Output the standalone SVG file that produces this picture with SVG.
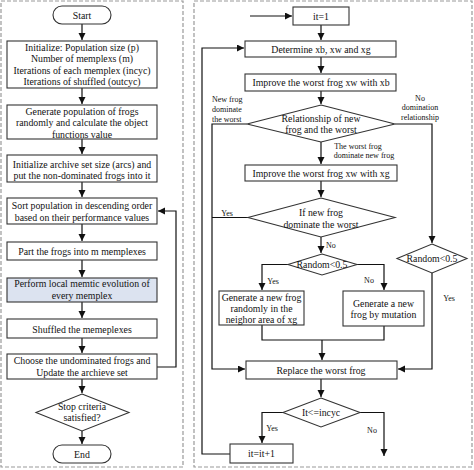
<svg xmlns="http://www.w3.org/2000/svg" width="474" height="470" viewBox="0 0 474 470">
<style>
.b{fill:#fff;stroke:#333;stroke-width:1.1}
.hl{fill:#dce3f0}
.t{font-family:"Liberation Serif","Times New Roman",serif;font-size:9.8px;fill:#111;text-anchor:middle}
.s{font-family:"Liberation Serif","Times New Roman",serif;font-size:8px;fill:#111}
.m{text-anchor:middle}
.c{fill:none;stroke:#111;stroke-width:1.2}
.frame{fill:none;stroke:#999;stroke-width:1.2;stroke-dasharray:4 2}
</style>
<defs>
<marker id="ah" markerUnits="userSpaceOnUse" markerWidth="8" markerHeight="8" refX="7" refY="3.5" orient="auto"><path d="M0,0 L7,3.5 L0,7 Z" fill="#111"/></marker>
</defs>
<rect class="frame" x="1" y="1" width="182" height="466"/>
<rect class="frame" x="194" y="1" width="278" height="466"/>
<g id="connectors">
<path class="c" d="M82,24V40" marker-end="url(#ah)"/>
<path class="c" d="M82,88V104" marker-end="url(#ah)"/>
<path class="c" d="M82,139V154" marker-end="url(#ah)"/>
<path class="c" d="M82,182V197" marker-end="url(#ah)"/>
<path class="c" d="M82,224V241" marker-end="url(#ah)"/>
<path class="c" d="M82,260V277" marker-end="url(#ah)"/>
<path class="c" d="M82,302V318" marker-end="url(#ah)"/>
<path class="c" d="M82,338V353" marker-end="url(#ah)"/>
<path class="c" d="M82,379V393" marker-end="url(#ah)"/>
<path class="c" d="M82,431V444" marker-end="url(#ah)"/>
<path class="c" d="M157,367H176V211H158" marker-end="url(#ah)"/>
<path class="c" d="M250,16H292" marker-end="url(#ah)"/>
<path class="c" d="M321,25V40" marker-end="url(#ah)"/>
<path class="c" d="M321,57V73" marker-end="url(#ah)"/>
<path class="c" d="M321,91V104" marker-end="url(#ah)"/>
<path class="c" d="M321,142V164" marker-end="url(#ah)"/>
<path class="c" d="M321,181V197" marker-end="url(#ah)"/>
<path class="c" d="M321,237V253" marker-end="url(#ah)"/>
<path class="c" d="M247,124H212V369H245" marker-end="url(#ah)"/>
<path class="c" d="M248,217.5H212"/>
<path class="c" d="M395,124H432V243" marker-end="url(#ah)"/>
<path class="c" d="M288,264.5H262V290" marker-end="url(#ah)"/>
<path class="c" d="M357,264.5H384V290" marker-end="url(#ah)"/>
<path class="c" d="M262,325V340H384V326"/>
<path class="c" d="M322,340V360" marker-end="url(#ah)"/>
<path class="c" d="M432,273V369H398" marker-end="url(#ah)"/>
<path class="c" d="M321,379V397" marker-end="url(#ah)"/>
<path class="c" d="M283,412.5H262V443" marker-end="url(#ah)"/>
<path class="c" d="M360,412.5H384V456" marker-end="url(#ah)"/>
<path class="c" d="M230,454H202V48H244" marker-end="url(#ah)"/>
</g>
<g id="start"><rect class="b" x="53" y="6" width="58" height="18" rx="9"/><text class="t" x="82" y="18.5">Start</text></g>
<g id="init"><rect class="b" x="7" y="41" width="150" height="47"/><text class="t" x="82" y="50.5">Initialize: Population size (p)</text><text class="t" x="82" y="61.5">Number of memplexs (m)</text><text class="t" x="82" y="73.5">Iterations of each memplex (incyc)</text><text class="t" x="82" y="84.5">Iterations of shuffled (outcyc)</text></g>
<g id="generate"><rect class="b" x="7" y="105" width="150" height="34"/><text class="t" x="82" y="114.5">Generate population of frogs</text><text class="t" x="82" y="126">randomly  and calculate the object</text><text class="t" x="82" y="137.5">functions value</text></g>
<g id="archive"><rect class="b" x="7" y="155" width="150" height="27"/><text class="t" x="82" y="167.5">Initialize archive set size (arcs) and</text><text class="t" x="82" y="178.5">put the non-dominated frogs into it</text></g>
<g id="sort"><rect class="b" x="7" y="198" width="150" height="26"/><text class="t" x="82" y="208.5">Sort population in descending order</text><text class="t" x="82" y="220.5">based on their performance values</text></g>
<g id="part"><rect class="b" x="7" y="242" width="150" height="18"/><text class="t" x="82" y="254.5">Part  the frogs into  m memplexes</text></g>
<g id="perform"><rect class="b hl" x="7" y="278" width="150" height="24"/><text class="t" x="82" y="286.5">Perform local memtic evolution of</text><text class="t" x="82" y="298.5">every memplex</text></g>
<g id="shuffled"><rect class="b" x="7" y="319" width="150" height="19"/><text class="t" x="82" y="332.5">Shuffled the memeplexes</text></g>
<g id="choose"><rect class="b" x="7" y="354" width="150" height="25"/><text class="t" x="82" y="363.5">Choose the undominated frogs and</text><text class="t" x="82" y="375.5">Update the archieve set</text></g>
<g id="stop"><polygon class="b" points="82,394 129,412.5 82,431 36,412.5"/><text class="t" x="82" y="410">Stop criteria</text><text class="t" x="82" y="421">satisfied?</text></g>
<g id="end"><rect class="b" x="53" y="445" width="58" height="18" rx="9"/><text class="t" x="82" y="457.5">End</text></g>
<g id="it1"><rect class="b" x="293" y="7" width="56" height="18"/><text class="t" x="321" y="19.5">it=1</text></g>
<g id="determine"><rect class="b" x="245" y="41" width="151" height="16"/><text class="t" x="321" y="52.5">Determine xb, xw and xg</text></g>
<g id="improvexb"><rect class="b" x="245" y="74" width="151" height="17"/><text class="t" x="321" y="86">Improve the worst frog xw with xb</text></g>
<g id="relationship"><polygon class="b" points="321,105 395,124 321,142 247,124"/><text class="t" x="321" y="121.5">Relationship of  new</text><text class="t" x="321" y="132.5">frog and the worst</text></g>
<g id="improvexg"><rect class="b" x="245" y="165" width="152" height="16"/><text class="t" x="321" y="176.5">Improve the worst frog xw with xg</text></g>
<g id="ifdominate"><polygon class="b" points="321,198 395,217.5 321,237 248,217.5"/><text class="t" x="321" y="215.5">If new frog</text><text class="t" x="321" y="227.5">dominate the worst</text></g>
<g id="random1"><polygon class="b" points="322,254 357,264.5 322,275 288,264.5"/><text class="t" x="322" y="268">Random&lt;0.5</text></g>
<g id="genrandom"><rect class="b" x="219" y="291" width="85" height="34"/><text class="t" x="261.5" y="301">Generate a new frog</text><text class="t" x="261.5" y="312">randomly in the</text><text class="t" x="261.5" y="323">neighor area of xg</text></g>
<g id="genmutation"><rect class="b" x="343" y="291" width="81" height="35"/><text class="t" x="383.5" y="306.5">Generate a new</text><text class="t" x="383.5" y="317.5">frog by mutation</text></g>
<g id="random2"><polygon class="b" points="432,244 467,258.5 432,273 397,258.5"/><text class="t" x="432" y="262">Random&lt;0.5</text></g>
<g id="replace"><rect class="b" x="246" y="361" width="151" height="18"/><text class="t" x="321" y="373.5">Replace the worst frog</text></g>
<g id="itcheck"><polygon class="b" points="321,398 360,412.5 321,427 283,412.5"/><text class="t" x="321" y="416">It&lt;=incyc</text></g>
<g id="itinc"><rect class="b" x="230" y="444" width="63" height="19"/><text class="t" x="261.5" y="457">it=it+1</text></g>
<g id="labels">
<text class="s" x="212" y="101.5">New frog</text><text class="s" x="212" y="111.5">dominate</text><text class="s" x="212" y="121.5">the worst</text>
<text class="s m" x="420" y="100.5">No</text><text class="s m" x="420" y="110">domination</text><text class="s m" x="420" y="119.5">relationship</text>
<text class="s m" x="358" y="148.5">The worst frog</text><text class="s m" x="364" y="157.5">dominate new frog</text>
<text class="s m" x="227" y="216">Yes</text>
<text class="s" x="326" y="247.5">No</text>
<text class="s m" x="273" y="283.5">Yes</text>
<text class="s m" x="369" y="282.5">No</text>
<text class="s m" x="449" y="300.5">Yes</text>
<text class="s m" x="272" y="430.5">Yes</text>
<text class="s m" x="372" y="432.5">No</text>
</g>
</svg>
